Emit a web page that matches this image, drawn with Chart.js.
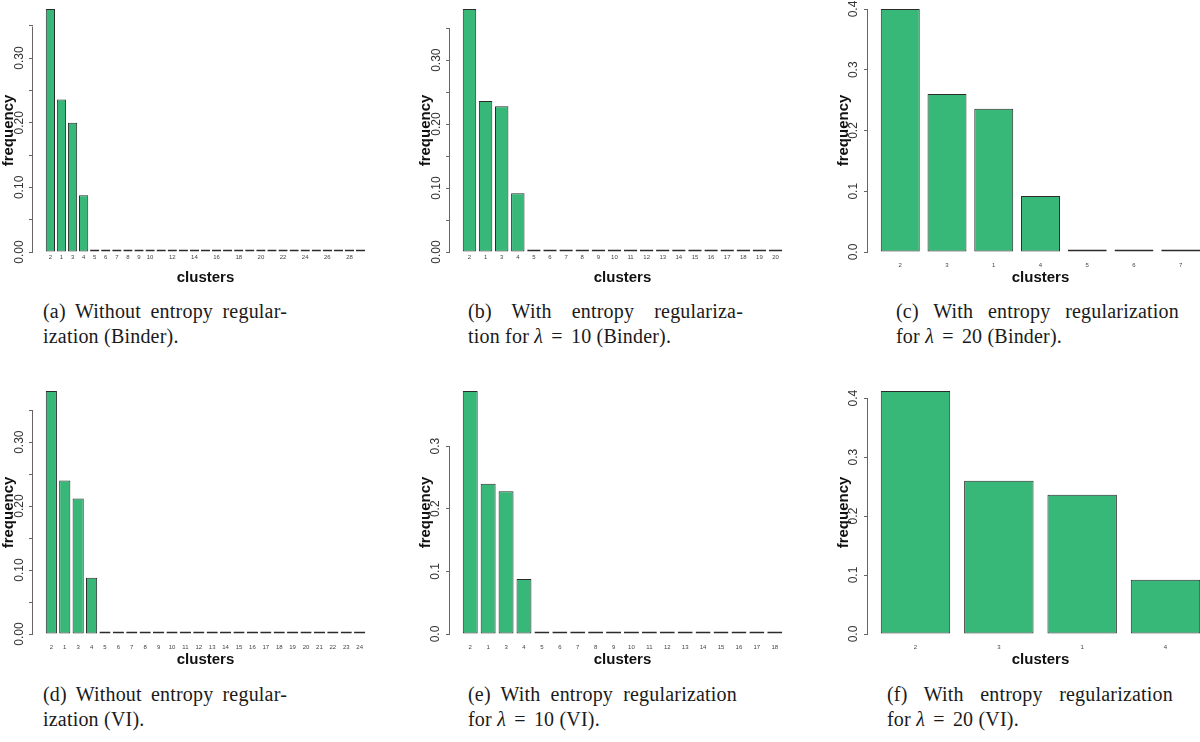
<!DOCTYPE html>
<html lang="en">
<head>
  <meta charset="UTF-8">
  <title>Cluster frequencies</title>
  <script src="https://cdn.jsdelivr.net/npm/chart.js"></script>
  <style>
    html, body {
      margin: 0;
      padding: 0;
      background: #fff;
      overflow: hidden;
    }
    body {
      position: relative;
      width: 1200px;
      height: 742px;
    }
    canvas {
      position: absolute;
    }
    .caption {
      position: absolute;
      font-family: "Liberation Serif", "Times New Roman", serif;
      font-size: 20px;
      letter-spacing: 0.2px;
      line-height: 25px;
      color: #1a1a1a;
    }
    .caption .just {
      text-align: justify;
      text-align-last: justify;
    }
    .caption i {
      font-style: italic;
    }
    .caption .rel {
      margin: 0 3px;
    }
  </style>
</head>
<body>
  <canvas id="ca" width="381" height="290" style="left:-3px; top:0px"></canvas>
  <canvas id="cb" width="381" height="290" style="left:414px; top:0px"></canvas>
  <canvas id="cc" width="381" height="290" style="left:832px; top:0px"></canvas>
  <canvas id="cd" width="381" height="290" style="left:-3px; top:382px"></canvas>
  <canvas id="ce" width="381" height="290" style="left:414px; top:382px"></canvas>
  <canvas id="cf" width="381" height="290" style="left:832px; top:382px"></canvas>

  <div class="caption" style="left:43px; top:299px; width:244px">
    <div class="just">(a) Without entropy regular-</div>
    <div>ization (Binder).</div>
  </div>
  <div class="caption" style="left:468px; top:299px; width:275px">
    <div class="just">(b) With entropy regulariza-</div>
    <div>tion for <i>λ</i> <span class="rel">=</span> 10 (Binder).</div>
  </div>
  <div class="caption" style="left:896px; top:299px; width:283px">
    <div class="just">(c) With entropy regularization</div>
    <div>for <i>λ</i> <span class="rel">=</span> 20 (Binder).</div>
  </div>
  <div class="caption" style="left:43px; top:682px; width:244px">
    <div class="just">(d) Without entropy regular-</div>
    <div>ization (VI).</div>
  </div>
  <div class="caption" style="left:468px; top:682px; width:269px">
    <div class="just">(e) With entropy regularization</div>
    <div>for <i>λ</i> <span class="rel">=</span> 10 (VI).</div>
  </div>
  <div class="caption" style="left:887px; top:682px; width:286px">
    <div class="just">(f) With entropy regularization</div>
    <div>for <i>λ</i> <span class="rel">=</span> 20 (VI).</div>
  </div>

  <script>
    // (a) Without entropy regularization (Binder)
    const clustersA = [2, 1, 3, 4, 5, 6, 7, 8, 9, 10, 11, 12, 13, 14, 15, 16, 17, 18, 19, 20, 21, 22, 23, 24, 25, 26, 27, 28, 29];
    const freqA = [0.376, 0.236, 0.2, 0.088, 0.004, 0.004, 0.004, 0.004, 0.004, 0.004, 0.004, 0.004, 0.004, 0.004, 0.004,
                   0.004, 0.004, 0.004, 0.004, 0.004, 0.004, 0.004, 0.004, 0.004, 0.004, 0.004, 0.004, 0.004, 0.004];
    const xLabelsA = ['2', '1', '3', '4', '5', '6', '7', '8', '9', '10', '', '12', '', '14', '', '16', '', '18', '',
                      '20', '', '22', '', '24', '', '26', '', '28', ''];

    // (b) lambda = 10 (Binder)
    const clustersB = [2, 1, 3, 4, 5, 6, 7, 8, 9, 10, 11, 12, 13, 14, 15, 16, 17, 18, 19, 20];
    const freqB = [0.38, 0.236, 0.228, 0.092, 0.004, 0.004, 0.004, 0.004, 0.004, 0.004, 0.004, 0.004, 0.004, 0.004,
                   0.004, 0.004, 0.004, 0.004, 0.004, 0.004];

    // (c) lambda = 20 (Binder)
    const clustersC = [2, 3, 1, 4, 5, 6, 7];
    const freqC = [0.4, 0.26, 0.236, 0.092, 0.004, 0.004, 0.004];

    // (d) Without entropy regularization (VI)
    const clustersD = [2, 1, 3, 4, 5, 6, 7, 8, 9, 10, 11, 12, 13, 14, 15, 16, 17, 18, 19, 20, 21, 22, 23, 24];
    const freqD = [0.38, 0.24, 0.212, 0.088, 0.004, 0.004, 0.004, 0.004, 0.004, 0.004, 0.004, 0.004, 0.004, 0.004,
                   0.004, 0.004, 0.004, 0.004, 0.004, 0.004, 0.004, 0.004, 0.004, 0.004];

    // (e) lambda = 10 (VI)
    const clustersE = [2, 1, 3, 4, 5, 6, 7, 8, 9, 10, 11, 12, 13, 14, 15, 16, 17, 18];
    const freqE = [0.388, 0.24, 0.228, 0.088, 0.004, 0.004, 0.004, 0.004, 0.004, 0.004, 0.004, 0.004, 0.004, 0.004,
                   0.004, 0.004, 0.004, 0.004];

    // (f) lambda = 20 (VI)
    const clustersF = [2, 3, 1, 4];
    const freqF = [0.412, 0.26, 0.236, 0.092];

    // y axis ticks
    const yTicksFine = [0, 0.05, 0.1, 0.15, 0.2, 0.25, 0.3, 0.35];
    const yLabelsFine = ['0.00', '', '0.10', '', '0.20', '', '0.30', ''];
    const yTicksCoarse = [0, 0.1, 0.2, 0.3, 0.4];
    const yLabelsCoarse = ['0.0', '0.1', '0.2', '0.3', '0.4'];
    const yTicksE = [0, 0.1, 0.2, 0.3];
    const yLabelsE = ['0.0', '0.1', '0.2', '0.3'];

    Chart.defaults.font.family = '"Liberation Sans", Arial, sans-serif';

    // R draws the y axis line only from first to last tick
    const axisLine = {
      id: 'axisLine',
      afterDraw(chart) {
        const y = chart.scales.y;
        const ctx = chart.ctx;
        const t = y.ticks;
        const x = Math.round(chart.chartArea.left) - 0.5;
        ctx.save();
        ctx.strokeStyle = '#666';
        ctx.lineWidth = 1;
        ctx.beginPath();
        ctx.moveTo(x, Math.round(y.getPixelForValue(t[0].value)) + 0.5);
        ctx.lineTo(x, Math.round(y.getPixelForValue(t[t.length - 1].value)) + 0.5);
        ctx.stroke();
        ctx.restore();
      }
    };

    function makeChart(id, clusters, freq, xLabels, yTicks, yLabels, xPad, yPad) {
      const n = freq.length;
      const half = 1 / 2.4;                 // bar width 1, space 0.2 (R barplot)
      const ext = 0.04 * (n - 1 + 2 * half); // R's 4% axis extension
      return new Chart(document.getElementById(id), {
        type: 'bar',
        data: {
          datasets: [{
            data: freq.map((v, i) => ({ x: i, y: v })),
            backgroundColor: '#37b778',
            borderColor: '#2b2b2b',
            borderWidth: 1,
            borderSkipped: false,
            barPercentage: 1 / 1.2,
            categoryPercentage: 1
          }]
        },
        options: {
          responsive: false,
          animation: false,
          layout: { padding: { top: 9, left: 0, right: 0, bottom: 0 } },
          plugins: { legend: { display: false }, tooltip: { enabled: false } },
          scales: {
            x: {
              type: 'linear',
              offset: false,
              min: -half - ext,
              max: n - 1 + half + ext,
              afterBuildTicks: (s) => { s.ticks = clusters.map((c, i) => ({ value: i })); },
              afterFit: (s) => { s.height = 38; },
              grid: { display: false, drawTicks: false, offset: false },
              border: { display: false },
              ticks: {
                autoSkip: false,
                maxRotation: 0,
                minRotation: 0,
                padding: xPad,
                color: '#444',
                font: { size: 6 },
                callback: (v, i) => xLabels[i]
              },
              title: {
                display: true,
                text: 'clusters',
                color: '#111',
                font: { size: 15, weight: 'bold' },
                padding: { top: 0, bottom: 3 }
              }
            },
            y: {
              min: 0,
              max: Math.max(...freq),
              afterBuildTicks: (s) => { s.ticks = yTicks.map((v) => ({ value: v })); },
              afterFit: (s) => { s.width = 36; },
              grid: { display: true, drawOnChartArea: false, drawTicks: true, tickLength: 4, color: '#666', lineWidth: 1 },
              border: { display: false },
              ticks: {
                minRotation: 90,
                maxRotation: 90,
                crossAlign: 'center',
                padding: yPad,
                color: '#333',
                font: { size: 12 },
                callback: (v, i) => yLabels[i]
              },
              title: {
                display: true,
                text: 'frequency',
                color: '#111',
                font: { size: 15, weight: 'bold' },
                padding: { top: 3, bottom: 0 }
              }
            }
          }
        },
        plugins: [axisLine]
      });
    }

    const toLabels = (arr) => arr.map(String);

    makeChart('ca', clustersA, freqA, xLabelsA, yTicksFine, yLabelsFine, 2, -2.4);
    makeChart('cb', clustersB, freqB, toLabels(clustersB), yTicksFine, yLabelsFine, 2, -2.4);
    makeChart('cc', clustersC, freqC, toLabels(clustersC), yTicksCoarse, yLabelsCoarse, 10, 1.7);
    makeChart('cd', clustersD, freqD, toLabels(clustersD), yTicksFine, yLabelsFine, 10, -2.4);
    makeChart('ce', clustersE, freqE, toLabels(clustersE), yTicksE, yLabelsE, 10, 1.7);
    makeChart('cf', clustersF, freqF, toLabels(clustersF), yTicksCoarse, yLabelsCoarse, 10, 1.7);
  </script>
</body>
</html>
